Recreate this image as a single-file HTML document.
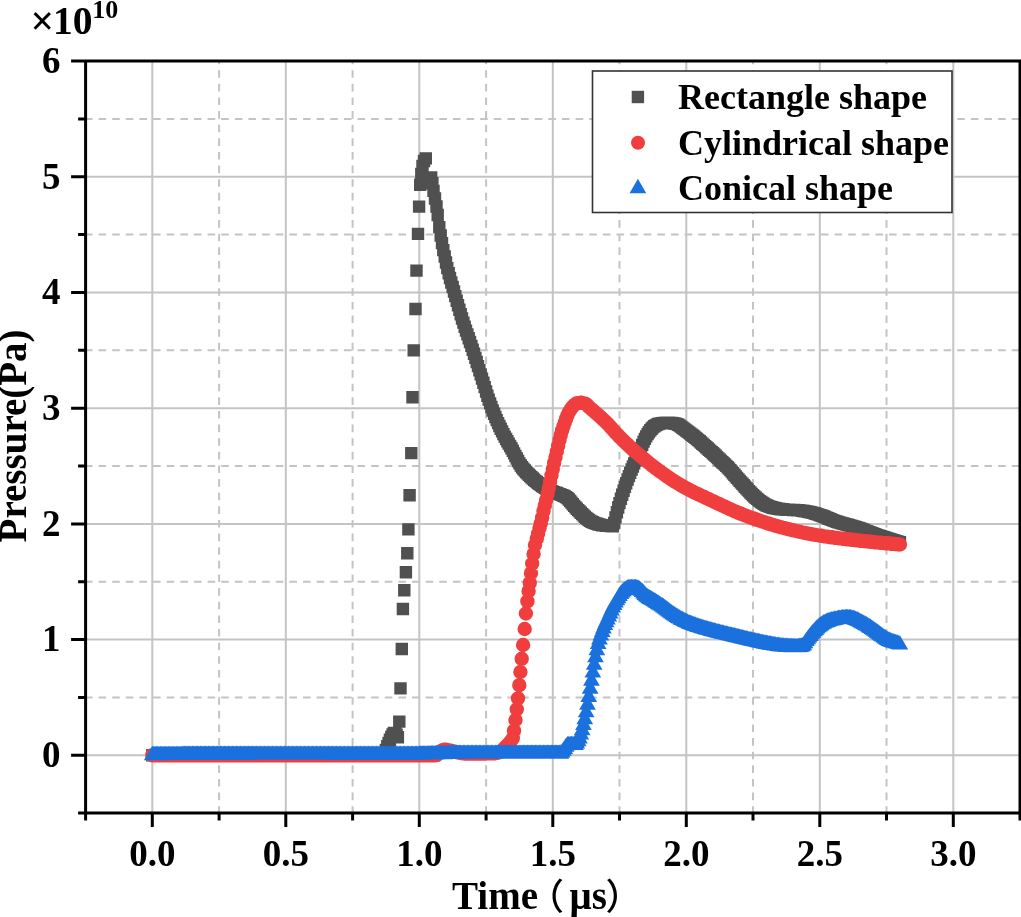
<!DOCTYPE html>
<html><head><meta charset="utf-8"><title>Pressure vs Time</title><style>
html,body{margin:0;padding:0;background:#fff;}
svg{display:block;}
text{font-family:"Liberation Serif","Times New Roman",serif;font-weight:bold;fill:#000;}
.cjk{font-family:"Noto Sans CJK SC","Liberation Sans",sans-serif;font-weight:500;}
</style></head><body>
<svg width="1021" height="917" viewBox="0 0 1021 917">
<rect width="1021" height="917" fill="#fff"/>
<path d="M152.3 813.1V61.1M285.8 813.1V61.1M419.3 813.1V61.1M552.8 813.1V61.1M686.3 813.1V61.1M819.8 813.1V61.1M953.3 813.1V61.1M85.6 755.3H1020M85.6 639.6H1020M85.6 523.9H1020M85.6 408.2H1020M85.6 292.5H1020M85.6 176.8H1020" stroke="#c4c4c4" stroke-width="2" fill="none"/>
<path d="M219.1 813.1V61.1M352.6 813.1V61.1M486.1 813.1V61.1M619.5 813.1V61.1M753 813.1V61.1M886.5 813.1V61.1M1020 813.1V61.1M85.6 697.4H1020M85.6 581.8H1020M85.6 466H1020M85.6 350.3H1020M85.6 234.6H1020M85.6 118.9H1020" stroke="#c4c4c4" stroke-width="2" stroke-dasharray="7.6 6.03" stroke-dashoffset="0.7" fill="none"/>
<path fill="#505050" d="M146.1 749.1h12.4v12.4h-12.4zM147.4 749.1h12.4v12.4h-12.4zM148.8 749.1h12.4v12.4h-12.4zM150.1 749.1h12.4v12.4h-12.4zM151.4 749.1h12.4v12.4h-12.4zM152.8 749.1h12.4v12.4h-12.4zM154.1 749.1h12.4v12.4h-12.4zM155.4 749.1h12.4v12.4h-12.4zM156.8 749.1h12.4v12.4h-12.4zM158.1 749.1h12.4v12.4h-12.4zM159.5 749.1h12.4v12.4h-12.4zM160.8 749.1h12.4v12.4h-12.4zM162.1 749.1h12.4v12.4h-12.4zM163.5 749.1h12.4v12.4h-12.4zM164.8 749.1h12.4v12.4h-12.4zM166.1 749.1h12.4v12.4h-12.4zM167.5 749.1h12.4v12.4h-12.4zM168.8 749.1h12.4v12.4h-12.4zM170.1 749.1h12.4v12.4h-12.4zM171.5 749.1h12.4v12.4h-12.4zM172.8 749.1h12.4v12.4h-12.4zM174.1 749.1h12.4v12.4h-12.4zM175.5 749.1h12.4v12.4h-12.4zM176.8 749.1h12.4v12.4h-12.4zM178.1 749.1h12.4v12.4h-12.4zM179.5 749.1h12.4v12.4h-12.4zM180.8 749.1h12.4v12.4h-12.4zM182.1 749.1h12.4v12.4h-12.4zM183.5 749.1h12.4v12.4h-12.4zM184.8 749.1h12.4v12.4h-12.4zM186.2 749.1h12.4v12.4h-12.4zM187.5 749.1h12.4v12.4h-12.4zM188.8 749.1h12.4v12.4h-12.4zM190.2 749.1h12.4v12.4h-12.4zM191.5 749.1h12.4v12.4h-12.4zM192.8 749.1h12.4v12.4h-12.4zM194.2 749.1h12.4v12.4h-12.4zM195.5 749.1h12.4v12.4h-12.4zM196.8 749.1h12.4v12.4h-12.4zM198.2 749.1h12.4v12.4h-12.4zM199.5 749.1h12.4v12.4h-12.4zM200.8 749.1h12.4v12.4h-12.4zM202.2 749.1h12.4v12.4h-12.4zM203.5 749.1h12.4v12.4h-12.4zM204.8 749.1h12.4v12.4h-12.4zM206.2 749.1h12.4v12.4h-12.4zM207.5 749.1h12.4v12.4h-12.4zM208.8 749.1h12.4v12.4h-12.4zM210.2 749.1h12.4v12.4h-12.4zM211.5 749.1h12.4v12.4h-12.4zM212.9 749.1h12.4v12.4h-12.4zM214.2 749.1h12.4v12.4h-12.4zM215.5 749.1h12.4v12.4h-12.4zM216.9 749.1h12.4v12.4h-12.4zM218.2 749.1h12.4v12.4h-12.4zM219.5 749.1h12.4v12.4h-12.4zM220.9 749.1h12.4v12.4h-12.4zM222.2 749.1h12.4v12.4h-12.4zM223.5 749.1h12.4v12.4h-12.4zM224.9 749.1h12.4v12.4h-12.4zM226.2 749.1h12.4v12.4h-12.4zM227.5 749.1h12.4v12.4h-12.4zM228.9 749.1h12.4v12.4h-12.4zM230.2 749.1h12.4v12.4h-12.4zM231.5 749.1h12.4v12.4h-12.4zM232.9 749.1h12.4v12.4h-12.4zM234.2 749.1h12.4v12.4h-12.4zM235.5 749.1h12.4v12.4h-12.4zM236.9 749.1h12.4v12.4h-12.4zM238.2 749.1h12.4v12.4h-12.4zM239.6 749.1h12.4v12.4h-12.4zM240.9 749.1h12.4v12.4h-12.4zM242.2 749.1h12.4v12.4h-12.4zM243.6 749.1h12.4v12.4h-12.4zM244.9 749.1h12.4v12.4h-12.4zM246.2 749.1h12.4v12.4h-12.4zM247.6 749.1h12.4v12.4h-12.4zM248.9 749.1h12.4v12.4h-12.4zM250.2 749.1h12.4v12.4h-12.4zM251.6 749.1h12.4v12.4h-12.4zM252.9 749.1h12.4v12.4h-12.4zM254.2 749.1h12.4v12.4h-12.4zM255.6 749.1h12.4v12.4h-12.4zM256.9 749.1h12.4v12.4h-12.4zM258.2 749.1h12.4v12.4h-12.4zM259.6 749.1h12.4v12.4h-12.4zM260.9 749.1h12.4v12.4h-12.4zM262.2 749.1h12.4v12.4h-12.4zM263.6 749.1h12.4v12.4h-12.4zM264.9 749.1h12.4v12.4h-12.4zM266.2 749.1h12.4v12.4h-12.4zM267.6 749.1h12.4v12.4h-12.4zM268.9 749.1h12.4v12.4h-12.4zM270.3 749.1h12.4v12.4h-12.4zM271.6 749.1h12.4v12.4h-12.4zM272.9 749.1h12.4v12.4h-12.4zM274.3 749.1h12.4v12.4h-12.4zM275.6 749.1h12.4v12.4h-12.4zM276.9 749.1h12.4v12.4h-12.4zM278.3 749.1h12.4v12.4h-12.4zM279.6 749.1h12.4v12.4h-12.4zM280.9 749.1h12.4v12.4h-12.4zM282.3 749.1h12.4v12.4h-12.4zM283.6 749.1h12.4v12.4h-12.4zM284.9 749.1h12.4v12.4h-12.4zM286.3 749.1h12.4v12.4h-12.4zM287.6 749.1h12.4v12.4h-12.4zM288.9 749.1h12.4v12.4h-12.4zM290.3 749.1h12.4v12.4h-12.4zM291.6 749.1h12.4v12.4h-12.4zM292.9 749.1h12.4v12.4h-12.4zM294.3 749.1h12.4v12.4h-12.4zM295.6 749.1h12.4v12.4h-12.4zM297 749.1h12.4v12.4h-12.4zM298.3 749.1h12.4v12.4h-12.4zM299.6 749.1h12.4v12.4h-12.4zM301 749.1h12.4v12.4h-12.4zM302.3 749.1h12.4v12.4h-12.4zM303.6 749.1h12.4v12.4h-12.4zM305 749.1h12.4v12.4h-12.4zM306.3 749.1h12.4v12.4h-12.4zM307.6 749.1h12.4v12.4h-12.4zM309 749.1h12.4v12.4h-12.4zM310.3 749.1h12.4v12.4h-12.4zM311.6 749.1h12.4v12.4h-12.4zM313 749.1h12.4v12.4h-12.4zM314.3 749.1h12.4v12.4h-12.4zM315.6 749.1h12.4v12.4h-12.4zM317 749.1h12.4v12.4h-12.4zM318.3 749.1h12.4v12.4h-12.4zM319.7 749.1h12.4v12.4h-12.4zM321 749.1h12.4v12.4h-12.4zM322.3 749.1h12.4v12.4h-12.4zM323.7 749.1h12.4v12.4h-12.4zM325 749.1h12.4v12.4h-12.4zM326.3 749.1h12.4v12.4h-12.4zM327.7 749.1h12.4v12.4h-12.4zM329 749.1h12.4v12.4h-12.4zM330.3 749.1h12.4v12.4h-12.4zM331.7 749.1h12.4v12.4h-12.4zM333 749.1h12.4v12.4h-12.4zM334.3 749.1h12.4v12.4h-12.4zM335.7 749.1h12.4v12.4h-12.4zM337 749.1h12.4v12.4h-12.4zM338.3 749.1h12.4v12.4h-12.4zM339.7 749.1h12.4v12.4h-12.4zM341 749.1h12.4v12.4h-12.4zM342.3 749.1h12.4v12.4h-12.4zM343.7 749.1h12.4v12.4h-12.4zM345 749.1h12.4v12.4h-12.4zM346.4 749.1h12.4v12.4h-12.4zM347.7 749.1h12.4v12.4h-12.4zM349 749.1h12.4v12.4h-12.4zM350.4 749.1h12.4v12.4h-12.4zM351.7 749.1h12.4v12.4h-12.4zM353 749.1h12.4v12.4h-12.4zM354.4 749.1h12.4v12.4h-12.4zM355.7 749.1h12.4v12.4h-12.4zM357 749.1h12.4v12.4h-12.4zM358.4 749.1h12.4v12.4h-12.4zM359.7 749.1h12.4v12.4h-12.4zM361 749.1h12.4v12.4h-12.4zM362.4 749.1h12.4v12.4h-12.4zM363.7 749.1h12.4v12.4h-12.4zM365 749.1h12.4v12.4h-12.4zM366.4 749.1h12.4v12.4h-12.4zM367.7 749.1h12.4v12.4h-12.4zM369 749.1h12.4v12.4h-12.4zM370.4 749.1h12.4v12.4h-12.4zM371.7 749.1h12.4v12.4h-12.4zM373.1 749.1h12.4v12.4h-12.4zM374.4 749.1h12.4v12.4h-12.4zM375.7 749.1h12.4v12.4h-12.4zM377.1 749.1h12.4v12.4h-12.4zM378.4 748.4h12.4v12.4h-12.4zM379.7 743.7h12.4v12.4h-12.4zM381.1 739.9h12.4v12.4h-12.4zM382.4 736.7h12.4v12.4h-12.4zM383.7 733.6h12.4v12.4h-12.4zM385.1 730.7h12.4v12.4h-12.4zM386.4 728.3h12.4v12.4h-12.4zM387.7 726.8h12.4v12.4h-12.4zM389.1 727.3h12.4v12.4h-12.4zM390.4 728.5h12.4v12.4h-12.4zM391.7 731.1h12.4v12.4h-12.4zM393.1 715.4h12.4v12.4h-12.4zM394.3 682.2h12.4v12.4h-12.4zM395.6 642.8h12.4v12.4h-12.4zM396.7 602.8h12.4v12.4h-12.4zM398.1 584h12.4v12.4h-12.4zM399.7 566h12.4v12.4h-12.4zM401.1 547.1h12.4v12.4h-12.4zM402.2 523.2h12.4v12.4h-12.4zM403.4 489.1h12.4v12.4h-12.4zM405.1 446.9h12.4v12.4h-12.4zM406.3 391h12.4v12.4h-12.4zM407.5 344.2h12.4v12.4h-12.4zM409.3 302.8h12.4v12.4h-12.4zM410.3 264.4h12.4v12.4h-12.4zM411.8 227.7h12.4v12.4h-12.4zM412.9 200.4h12.4v12.4h-12.4zM414 178.6h12.4v12.4h-12.4zM415.1 167.8h12.4v12.4h-12.4zM416.3 159.8h12.4v12.4h-12.4zM417.8 154.8h12.4v12.4h-12.4zM419.6 152.2h12.4v12.4h-12.4zM425 171.3h12.4v12.4h-12.4zM426.2 177h12.4v12.4h-12.4zM427.3 184.7h12.4v12.4h-12.4zM428.8 192.3h12.4v12.4h-12.4zM430.3 200.3h12.4v12.4h-12.4zM431.5 208.8h12.4v12.4h-12.4zM433.1 220.9h12.4v12.4h-12.4zM434.5 229.3h12.4v12.4h-12.4zM435.8 236.9h12.4v12.4h-12.4zM437.1 243.9h12.4v12.4h-12.4zM438.5 250.3h12.4v12.4h-12.4zM439.8 256.3h12.4v12.4h-12.4zM441.1 261.9h12.4v12.4h-12.4zM442.5 267h12.4v12.4h-12.4zM443.8 271.8h12.4v12.4h-12.4zM445.1 276.3h12.4v12.4h-12.4zM446.5 280.8h12.4v12.4h-12.4zM447.8 285.3h12.4v12.4h-12.4zM449.1 289.9h12.4v12.4h-12.4zM450.5 294.5h12.4v12.4h-12.4zM451.8 299h12.4v12.4h-12.4zM453.2 303.6h12.4v12.4h-12.4zM454.5 308h12.4v12.4h-12.4zM455.8 312.3h12.4v12.4h-12.4zM457.2 316.4h12.4v12.4h-12.4zM458.5 320.5h12.4v12.4h-12.4zM459.8 324.4h12.4v12.4h-12.4zM461.2 328.2h12.4v12.4h-12.4zM462.5 332h12.4v12.4h-12.4zM463.8 335.8h12.4v12.4h-12.4zM465.2 339.7h12.4v12.4h-12.4zM466.5 343.6h12.4v12.4h-12.4zM467.8 347.6h12.4v12.4h-12.4zM469.2 351.7h12.4v12.4h-12.4zM470.5 355.8h12.4v12.4h-12.4zM471.8 359.9h12.4v12.4h-12.4zM473.2 364h12.4v12.4h-12.4zM474.5 368.2h12.4v12.4h-12.4zM475.8 372.4h12.4v12.4h-12.4zM477.2 376.6h12.4v12.4h-12.4zM478.5 380.9h12.4v12.4h-12.4zM479.9 385.3h12.4v12.4h-12.4zM481.2 389.5h12.4v12.4h-12.4zM482.5 393.4h12.4v12.4h-12.4zM483.9 397.2h12.4v12.4h-12.4zM485.2 400.8h12.4v12.4h-12.4zM486.5 404.3h12.4v12.4h-12.4zM487.9 407.6h12.4v12.4h-12.4zM489.2 410.8h12.4v12.4h-12.4zM490.5 413.9h12.4v12.4h-12.4zM491.9 416.9h12.4v12.4h-12.4zM493.2 419.8h12.4v12.4h-12.4zM494.5 422.5h12.4v12.4h-12.4zM495.9 425.2h12.4v12.4h-12.4zM497.2 427.9h12.4v12.4h-12.4zM498.5 430.4h12.4v12.4h-12.4zM499.9 432.8h12.4v12.4h-12.4zM501.2 435.1h12.4v12.4h-12.4zM502.5 437.4h12.4v12.4h-12.4zM503.9 439.8h12.4v12.4h-12.4zM505.2 442.1h12.4v12.4h-12.4zM506.6 444.6h12.4v12.4h-12.4zM507.9 447.2h12.4v12.4h-12.4zM509.2 449.8h12.4v12.4h-12.4zM510.6 452.3h12.4v12.4h-12.4zM511.9 454.8h12.4v12.4h-12.4zM513.2 457.2h12.4v12.4h-12.4zM514.6 459.3h12.4v12.4h-12.4zM515.9 461.1h12.4v12.4h-12.4zM517.2 462.8h12.4v12.4h-12.4zM518.6 464.3h12.4v12.4h-12.4zM519.9 465.8h12.4v12.4h-12.4zM521.2 467.2h12.4v12.4h-12.4zM522.6 468.5h12.4v12.4h-12.4zM523.9 469.8h12.4v12.4h-12.4zM525.2 471.1h12.4v12.4h-12.4zM526.6 472.3h12.4v12.4h-12.4zM527.9 473.5h12.4v12.4h-12.4zM529.2 474.7h12.4v12.4h-12.4zM530.6 475.8h12.4v12.4h-12.4zM531.9 476.9h12.4v12.4h-12.4zM533.2 477.9h12.4v12.4h-12.4zM534.6 478.8h12.4v12.4h-12.4zM535.9 479.8h12.4v12.4h-12.4zM537.3 480.6h12.4v12.4h-12.4zM538.6 481.5h12.4v12.4h-12.4zM539.9 482.3h12.4v12.4h-12.4zM541.3 483h12.4v12.4h-12.4zM542.6 483.7h12.4v12.4h-12.4zM543.9 484.4h12.4v12.4h-12.4zM545.3 484.9h12.4v12.4h-12.4zM546.6 485.4h12.4v12.4h-12.4zM547.9 485.9h12.4v12.4h-12.4zM549.3 486.4h12.4v12.4h-12.4zM550.6 486.8h12.4v12.4h-12.4zM551.9 487.4h12.4v12.4h-12.4zM553.3 487.9h12.4v12.4h-12.4zM554.6 488.4h12.4v12.4h-12.4zM555.9 488.9h12.4v12.4h-12.4zM557.3 489.5h12.4v12.4h-12.4zM558.6 490.2h12.4v12.4h-12.4zM559.9 490.9h12.4v12.4h-12.4zM561.3 491.9h12.4v12.4h-12.4zM562.6 493.3h12.4v12.4h-12.4zM564 494.8h12.4v12.4h-12.4zM565.3 496.4h12.4v12.4h-12.4zM566.6 498.1h12.4v12.4h-12.4zM568 499.7h12.4v12.4h-12.4zM569.3 501.2h12.4v12.4h-12.4zM570.6 502.5h12.4v12.4h-12.4zM572 503.9h12.4v12.4h-12.4zM573.3 505.2h12.4v12.4h-12.4zM574.6 506.6h12.4v12.4h-12.4zM576 507.9h12.4v12.4h-12.4zM577.3 509.2h12.4v12.4h-12.4zM578.6 510.5h12.4v12.4h-12.4zM580 511.7h12.4v12.4h-12.4zM581.3 512.8h12.4v12.4h-12.4zM582.6 513.8h12.4v12.4h-12.4zM584 514.7h12.4v12.4h-12.4zM585.3 515.5h12.4v12.4h-12.4zM586.6 516.1h12.4v12.4h-12.4zM588 516.7h12.4v12.4h-12.4zM589.3 517.2h12.4v12.4h-12.4zM590.7 517.6h12.4v12.4h-12.4zM592 518h12.4v12.4h-12.4zM593.3 518.4h12.4v12.4h-12.4zM594.7 518.7h12.4v12.4h-12.4zM596 519h12.4v12.4h-12.4zM597.3 519.2h12.4v12.4h-12.4zM598.7 519.4h12.4v12.4h-12.4zM600 519.5h12.4v12.4h-12.4zM601.3 519.6h12.4v12.4h-12.4zM602.7 519.7h12.4v12.4h-12.4zM604 519.8h12.4v12.4h-12.4zM605.3 519.9h12.4v12.4h-12.4zM606.7 520h12.4v12.4h-12.4zM608 516.8h12.4v12.4h-12.4zM609.3 511.2h12.4v12.4h-12.4zM610.7 506h12.4v12.4h-12.4zM612 501.3h12.4v12.4h-12.4zM613.3 496.9h12.4v12.4h-12.4zM614.7 492.6h12.4v12.4h-12.4zM616 488.5h12.4v12.4h-12.4zM617.4 484.5h12.4v12.4h-12.4zM618.7 480.7h12.4v12.4h-12.4zM620 477h12.4v12.4h-12.4zM621.4 473.3h12.4v12.4h-12.4zM622.7 469.9h12.4v12.4h-12.4zM624 466.6h12.4v12.4h-12.4zM625.4 463.3h12.4v12.4h-12.4zM626.7 460.3h12.4v12.4h-12.4zM628 457.2h12.4v12.4h-12.4zM629.4 454.3h12.4v12.4h-12.4zM630.7 451.3h12.4v12.4h-12.4zM632 448.4h12.4v12.4h-12.4zM633.4 445.4h12.4v12.4h-12.4zM634.7 442.2h12.4v12.4h-12.4zM636 438.7h12.4v12.4h-12.4zM637.4 435.4h12.4v12.4h-12.4zM638.7 432.7h12.4v12.4h-12.4zM640 430.2h12.4v12.4h-12.4zM641.4 427.9h12.4v12.4h-12.4zM642.7 425.9h12.4v12.4h-12.4zM644.1 424.1h12.4v12.4h-12.4zM645.4 422.5h12.4v12.4h-12.4zM646.7 421.2h12.4v12.4h-12.4zM648.1 420.1h12.4v12.4h-12.4zM649.4 419.2h12.4v12.4h-12.4zM650.7 418.4h12.4v12.4h-12.4zM652.1 417.8h12.4v12.4h-12.4zM653.4 417.4h12.4v12.4h-12.4zM654.7 417.2h12.4v12.4h-12.4zM656.1 417h12.4v12.4h-12.4zM657.4 416.8h12.4v12.4h-12.4zM658.7 416.7h12.4v12.4h-12.4zM660.1 416.6h12.4v12.4h-12.4zM661.4 416.6h12.4v12.4h-12.4zM662.7 416.6h12.4v12.4h-12.4zM664.1 416.7h12.4v12.4h-12.4zM665.4 416.8h12.4v12.4h-12.4zM666.8 417h12.4v12.4h-12.4zM668.1 417.3h12.4v12.4h-12.4zM669.4 417.5h12.4v12.4h-12.4zM670.8 417.9h12.4v12.4h-12.4zM672.1 418.5h12.4v12.4h-12.4zM673.4 419.4h12.4v12.4h-12.4zM674.8 420.4h12.4v12.4h-12.4zM676.1 421.4h12.4v12.4h-12.4zM677.4 422.4h12.4v12.4h-12.4zM678.8 423.4h12.4v12.4h-12.4zM680.1 424.4h12.4v12.4h-12.4zM681.4 425.4h12.4v12.4h-12.4zM682.8 426.4h12.4v12.4h-12.4zM684.1 427.4h12.4v12.4h-12.4zM685.4 428.5h12.4v12.4h-12.4zM686.8 429.5h12.4v12.4h-12.4zM688.1 430.6h12.4v12.4h-12.4zM689.4 431.7h12.4v12.4h-12.4zM690.8 432.8h12.4v12.4h-12.4zM692.1 433.9h12.4v12.4h-12.4zM693.5 435.1h12.4v12.4h-12.4zM694.8 436.3h12.4v12.4h-12.4zM696.1 437.5h12.4v12.4h-12.4zM697.5 438.7h12.4v12.4h-12.4zM698.8 439.9h12.4v12.4h-12.4zM700.1 441.1h12.4v12.4h-12.4zM701.5 442.3h12.4v12.4h-12.4zM702.8 443.5h12.4v12.4h-12.4zM704.1 444.7h12.4v12.4h-12.4zM705.5 445.9h12.4v12.4h-12.4zM706.8 447.1h12.4v12.4h-12.4zM708.1 448.3h12.4v12.4h-12.4zM709.5 449.6h12.4v12.4h-12.4zM710.8 450.9h12.4v12.4h-12.4zM712.1 452.2h12.4v12.4h-12.4zM713.5 453.5h12.4v12.4h-12.4zM714.8 454.8h12.4v12.4h-12.4zM716.1 456h12.4v12.4h-12.4zM717.5 457.2h12.4v12.4h-12.4zM718.8 458.4h12.4v12.4h-12.4zM720.1 459.7h12.4v12.4h-12.4zM721.5 461h12.4v12.4h-12.4zM722.8 462.4h12.4v12.4h-12.4zM724.2 463.9h12.4v12.4h-12.4zM725.5 465.4h12.4v12.4h-12.4zM726.8 467h12.4v12.4h-12.4zM728.2 468.6h12.4v12.4h-12.4zM729.5 470.2h12.4v12.4h-12.4zM730.8 471.7h12.4v12.4h-12.4zM732.2 473.2h12.4v12.4h-12.4zM733.5 474.7h12.4v12.4h-12.4zM734.8 476.2h12.4v12.4h-12.4zM736.2 477.6h12.4v12.4h-12.4zM737.5 479.1h12.4v12.4h-12.4zM738.8 480.6h12.4v12.4h-12.4zM740.2 482h12.4v12.4h-12.4zM741.5 483.4h12.4v12.4h-12.4zM742.8 484.9h12.4v12.4h-12.4zM744.2 486.3h12.4v12.4h-12.4zM745.5 487.7h12.4v12.4h-12.4zM746.8 489h12.4v12.4h-12.4zM748.2 490.3h12.4v12.4h-12.4zM749.5 491.5h12.4v12.4h-12.4zM750.9 492.7h12.4v12.4h-12.4zM752.2 493.8h12.4v12.4h-12.4zM753.5 494.9h12.4v12.4h-12.4zM754.9 495.8h12.4v12.4h-12.4zM756.2 496.7h12.4v12.4h-12.4zM757.5 497.6h12.4v12.4h-12.4zM758.9 498.4h12.4v12.4h-12.4zM760.2 499.1h12.4v12.4h-12.4zM761.5 499.7h12.4v12.4h-12.4zM762.9 500.2h12.4v12.4h-12.4zM764.2 500.7h12.4v12.4h-12.4zM765.5 501.1h12.4v12.4h-12.4zM766.9 501.5h12.4v12.4h-12.4zM768.2 501.8h12.4v12.4h-12.4zM769.5 502.1h12.4v12.4h-12.4zM770.9 502.4h12.4v12.4h-12.4zM772.2 502.6h12.4v12.4h-12.4zM773.5 502.8h12.4v12.4h-12.4zM774.9 503h12.4v12.4h-12.4zM776.2 503.1h12.4v12.4h-12.4zM777.6 503.3h12.4v12.4h-12.4zM778.9 503.4h12.4v12.4h-12.4zM780.2 503.5h12.4v12.4h-12.4zM781.6 503.6h12.4v12.4h-12.4zM782.9 503.6h12.4v12.4h-12.4zM784.2 503.7h12.4v12.4h-12.4zM785.6 503.7h12.4v12.4h-12.4zM786.9 503.8h12.4v12.4h-12.4zM788.2 503.8h12.4v12.4h-12.4zM789.6 503.9h12.4v12.4h-12.4zM790.9 504h12.4v12.4h-12.4zM792.2 504.1h12.4v12.4h-12.4zM793.6 504.2h12.4v12.4h-12.4zM794.9 504.4h12.4v12.4h-12.4zM796.2 504.6h12.4v12.4h-12.4zM797.6 504.8h12.4v12.4h-12.4zM798.9 505h12.4v12.4h-12.4zM800.2 505.2h12.4v12.4h-12.4zM801.6 505.5h12.4v12.4h-12.4zM802.9 505.8h12.4v12.4h-12.4zM804.3 506.1h12.4v12.4h-12.4zM805.6 506.4h12.4v12.4h-12.4zM806.9 506.7h12.4v12.4h-12.4zM808.3 507.1h12.4v12.4h-12.4zM809.6 507.5h12.4v12.4h-12.4zM810.9 507.9h12.4v12.4h-12.4zM812.3 508.4h12.4v12.4h-12.4zM813.6 508.9h12.4v12.4h-12.4zM814.9 509.3h12.4v12.4h-12.4zM816.3 509.8h12.4v12.4h-12.4zM817.6 510.3h12.4v12.4h-12.4zM818.9 510.8h12.4v12.4h-12.4zM820.3 511.4h12.4v12.4h-12.4zM821.6 512h12.4v12.4h-12.4zM822.9 512.5h12.4v12.4h-12.4zM824.3 513.1h12.4v12.4h-12.4zM825.6 513.7h12.4v12.4h-12.4zM827 514.2h12.4v12.4h-12.4zM828.3 514.7h12.4v12.4h-12.4zM829.6 515.2h12.4v12.4h-12.4zM831 515.6h12.4v12.4h-12.4zM832.3 516h12.4v12.4h-12.4zM833.6 516.4h12.4v12.4h-12.4zM835 516.8h12.4v12.4h-12.4zM836.3 517.2h12.4v12.4h-12.4zM837.6 517.5h12.4v12.4h-12.4zM839 517.9h12.4v12.4h-12.4zM840.3 518.3h12.4v12.4h-12.4zM841.6 518.6h12.4v12.4h-12.4zM843 519h12.4v12.4h-12.4zM844.3 519.4h12.4v12.4h-12.4zM845.6 519.8h12.4v12.4h-12.4zM847 520.2h12.4v12.4h-12.4zM848.3 520.6h12.4v12.4h-12.4zM849.6 521h12.4v12.4h-12.4zM851 521.4h12.4v12.4h-12.4zM852.3 521.8h12.4v12.4h-12.4zM853.6 522.2h12.4v12.4h-12.4zM855 522.7h12.4v12.4h-12.4zM856.3 523.3h12.4v12.4h-12.4zM857.7 523.8h12.4v12.4h-12.4zM859 524.4h12.4v12.4h-12.4zM860.3 525h12.4v12.4h-12.4zM861.7 525.6h12.4v12.4h-12.4zM863 526.1h12.4v12.4h-12.4zM864.3 526.6h12.4v12.4h-12.4zM865.7 527.1h12.4v12.4h-12.4zM867 527.6h12.4v12.4h-12.4zM868.3 528h12.4v12.4h-12.4zM869.7 528.5h12.4v12.4h-12.4zM871 528.9h12.4v12.4h-12.4zM872.3 529.4h12.4v12.4h-12.4zM873.7 529.8h12.4v12.4h-12.4zM875 530.2h12.4v12.4h-12.4zM876.3 530.7h12.4v12.4h-12.4zM877.7 531.1h12.4v12.4h-12.4zM879 531.5h12.4v12.4h-12.4zM880.3 532h12.4v12.4h-12.4zM881.7 532.4h12.4v12.4h-12.4zM883 532.8h12.4v12.4h-12.4zM884.4 533.2h12.4v12.4h-12.4zM885.7 533.7h12.4v12.4h-12.4zM887 534.1h12.4v12.4h-12.4zM888.4 534.5h12.4v12.4h-12.4zM889.7 534.9h12.4v12.4h-12.4zM891 535.3h12.4v12.4h-12.4zM892.4 535.7h12.4v12.4h-12.4zM893.7 536.1h12.4v12.4h-12.4z"/>
<path stroke="#f03e3f" stroke-width="14.4" stroke-linecap="round" fill="none" d="M152.3 755.3h0M153.6 755.3h0M155 755.3h0M156.3 755.3h0M157.6 755.3h0M159 755.3h0M160.3 755.3h0M161.6 755.3h0M163 755.3h0M164.3 755.3h0M165.7 755.3h0M167 755.3h0M168.3 755.3h0M169.7 755.3h0M171 755.3h0M172.3 755.3h0M173.7 755.3h0M175 755.3h0M176.3 755.3h0M177.7 755.3h0M179 755.3h0M180.3 755.3h0M181.7 755.3h0M183 755.3h0M184.3 755.3h0M185.7 755.3h0M187 755.3h0M188.3 755.3h0M189.7 755.3h0M191 755.3h0M192.4 755.3h0M193.7 755.3h0M195 755.3h0M196.4 755.3h0M197.7 755.3h0M199 755.3h0M200.4 755.3h0M201.7 755.3h0M203 755.3h0M204.4 755.3h0M205.7 755.3h0M207 755.3h0M208.4 755.3h0M209.7 755.3h0M211 755.3h0M212.4 755.3h0M213.7 755.3h0M215 755.3h0M216.4 755.3h0M217.7 755.3h0M219.1 755.3h0M220.4 755.3h0M221.7 755.3h0M223.1 755.3h0M224.4 755.3h0M225.7 755.3h0M227.1 755.3h0M228.4 755.3h0M229.7 755.3h0M231.1 755.3h0M232.4 755.3h0M233.7 755.3h0M235.1 755.3h0M236.4 755.3h0M237.7 755.3h0M239.1 755.3h0M240.4 755.3h0M241.7 755.3h0M243.1 755.3h0M244.4 755.3h0M245.8 755.3h0M247.1 755.3h0M248.4 755.3h0M249.8 755.3h0M251.1 755.3h0M252.4 755.3h0M253.8 755.3h0M255.1 755.3h0M256.4 755.3h0M257.8 755.3h0M259.1 755.3h0M260.4 755.3h0M261.8 755.3h0M263.1 755.3h0M264.4 755.3h0M265.8 755.3h0M267.1 755.3h0M268.4 755.3h0M269.8 755.3h0M271.1 755.3h0M272.4 755.3h0M273.8 755.3h0M275.1 755.3h0M276.5 755.3h0M277.8 755.3h0M279.1 755.3h0M280.5 755.3h0M281.8 755.3h0M283.1 755.3h0M284.5 755.3h0M285.8 755.3h0M287.1 755.3h0M288.5 755.3h0M289.8 755.3h0M291.1 755.3h0M292.5 755.3h0M293.8 755.3h0M295.1 755.3h0M296.5 755.3h0M297.8 755.3h0M299.1 755.3h0M300.5 755.3h0M301.8 755.3h0M303.2 755.3h0M304.5 755.3h0M305.8 755.3h0M307.2 755.3h0M308.5 755.3h0M309.8 755.3h0M311.2 755.3h0M312.5 755.3h0M313.8 755.3h0M315.2 755.3h0M316.5 755.3h0M317.8 755.3h0M319.2 755.3h0M320.5 755.3h0M321.8 755.3h0M323.2 755.3h0M324.5 755.3h0M325.9 755.3h0M327.2 755.3h0M328.5 755.3h0M329.9 755.3h0M331.2 755.3h0M332.5 755.3h0M333.9 755.3h0M335.2 755.3h0M336.5 755.3h0M337.9 755.3h0M339.2 755.3h0M340.5 755.3h0M341.9 755.3h0M343.2 755.3h0M344.5 755.3h0M345.9 755.3h0M347.2 755.3h0M348.5 755.3h0M349.9 755.3h0M351.2 755.3h0M352.6 755.3h0M353.9 755.3h0M355.2 755.3h0M356.6 755.3h0M357.9 755.3h0M359.2 755.3h0M360.6 755.3h0M361.9 755.3h0M363.2 755.3h0M364.6 755.3h0M365.9 755.3h0M367.2 755.3h0M368.6 755.3h0M369.9 755.3h0M371.2 755.3h0M372.6 755.3h0M373.9 755.3h0M375.2 755.3h0M376.6 755.3h0M377.9 755.3h0M379.2 755.3h0M380.6 755.3h0M381.9 755.3h0M383.3 755.3h0M384.6 755.3h0M385.9 755.3h0M387.3 755.3h0M388.6 755.3h0M389.9 755.3h0M391.3 755.3h0M392.6 755.3h0M393.9 755.3h0M395.3 755.3h0M396.6 755.3h0M397.9 755.3h0M399.3 755.3h0M400.6 755.3h0M401.9 755.3h0M403.3 755.3h0M404.6 755.3h0M406 755.3h0M407.3 755.3h0M408.6 755.3h0M410 755.3h0M411.3 755.3h0M412.6 755.3h0M414 755.3h0M415.3 755.3h0M416.6 755.3h0M418 755.3h0M419.3 755.3h0M420.6 755.3h0M422 755.3h0M423.3 755.3h0M424.6 755.3h0M426 755.3h0M427.3 755.3h0M428.6 755.3h0M430 755.3h0M431.3 755.3h0M432.6 755.3h0M434 755.3h0M435.3 755.3h0M436.7 755.1h0M438 753.7h0M439.3 752h0M440.7 751.1h0M442 750.4h0M443.3 749.9h0M444.7 749.7h0M446 749.8h0M447.3 750h0M448.7 750.2h0M450 750.5h0M451.3 750.8h0M452.7 751.1h0M454 751.5h0M455.3 751.9h0M456.7 752.2h0M458 752.5h0M459.4 752.7h0M460.7 753h0M462 753.2h0M463.4 753.3h0M464.7 753.5h0M466 753.5h0M467.4 753.5h0M468.7 753.5h0M470 753.5h0M471.4 753.5h0M472.7 753.5h0M474 753.5h0M475.4 753.5h0M476.7 753.5h0M478 753.5h0M479.4 753.5h0M480.7 753.5h0M482 753.5h0M483.4 753.5h0M484.7 753.5h0M486.1 753.5h0M487.4 753.4h0M488.7 753.4h0M490.1 753.4h0M491.4 753.3h0M492.7 753.3h0M494.1 753.2h0M495.4 753.2h0M496.7 753h0M498.1 752.7h0M499.4 752.2h0M500.7 751.6h0M502.1 750.4h0M503.4 749.1h0M504.7 747.8h0M506.1 746.4h0M507.4 745.1h0M508.7 743.8h0M510.1 742.2h0M511.4 740.4h0M512.8 738.3h0M514 730.7h0M515.5 720h0M516.8 709.3h0M518 698.4h0M519.3 685.2h0M520.4 672h0M521.7 658.8h0M523.1 645h0M524.7 629h0M525.9 613.5h0M527.4 601.4h0M528.6 591.2h0M529.8 582.8h0M531 573.2h0M532.2 563.6h0M533.6 554h0M535 545h0M536.8 538.7h0M538.1 533.6h0M539.5 528.2h0M540.8 523.3h0M542.1 517.7h0M543.5 511.2h0M544.8 505.5h0M546.1 500h0M547.5 494.2h0M548.8 488.1h0M550.1 481.7h0M551.5 475.3h0M552.8 469h0M554.1 462.9h0M555.5 457.2h0M556.8 451.6h0M558.1 445.8h0M559.5 439.9h0M560.8 434.8h0M562.1 430.4h0M563.5 426.4h0M564.8 422.5h0M566.1 418.7h0M567.5 415.3h0M568.8 412.5h0M570.2 410.1h0M571.5 408.1h0M572.8 406.5h0M574.2 405.1h0M575.5 404h0M576.8 403.3h0M578.2 403.1h0M579.5 402.9h0M580.8 402.8h0M582.2 402.9h0M583.5 403.1h0M584.8 403.5h0M586.2 404.1h0M587.5 405.4h0M588.8 406.8h0M590.2 408h0M591.5 409.2h0M592.9 410.3h0M594.2 411.5h0M595.5 412.6h0M596.9 413.8h0M598.2 414.9h0M599.5 416.1h0M600.9 417.3h0M602.2 418.6h0M603.5 419.8h0M604.9 421.1h0M606.2 422.4h0M607.5 423.7h0M608.9 425.1h0M610.2 426.6h0M611.5 428.1h0M612.9 429.6h0M614.2 431.1h0M615.5 432.6h0M616.9 434h0M618.2 435.4h0M619.5 436.8h0M620.9 438.1h0M622.2 439.5h0M623.6 440.8h0M624.9 442.1h0M626.2 443.4h0M627.6 444.7h0M628.9 445.9h0M630.2 447.2h0M631.6 448.4h0M632.9 449.6h0M634.2 450.7h0M635.6 451.8h0M636.9 452.9h0M638.2 454h0M639.6 455.1h0M640.9 456.3h0M642.2 457.4h0M643.6 458.5h0M644.9 459.7h0M646.2 460.8h0M647.6 461.9h0M648.9 463h0M650.3 464h0M651.6 465.1h0M652.9 466.1h0M654.3 467.2h0M655.6 468.2h0M656.9 469.2h0M658.3 470.2h0M659.6 471.1h0M660.9 472.1h0M662.3 473h0M663.6 474h0M664.9 474.9h0M666.3 475.9h0M667.6 476.8h0M668.9 477.7h0M670.3 478.7h0M671.6 479.6h0M673 480.4h0M674.3 481.3h0M675.6 482.1h0M677 482.9h0M678.3 483.7h0M679.6 484.5h0M681 485.3h0M682.3 486h0M683.6 486.8h0M685 487.6h0M686.3 488.3h0M687.6 489h0M689 489.7h0M690.3 490.4h0M691.6 491.1h0M693 491.8h0M694.3 492.4h0M695.6 493.1h0M697 493.7h0M698.3 494.3h0M699.7 494.9h0M701 495.6h0M702.3 496.2h0M703.7 496.8h0M705 497.4h0M706.3 498.1h0M707.7 498.7h0M709 499.3h0M710.3 500h0M711.7 500.6h0M713 501.2h0M714.3 501.8h0M715.7 502.5h0M717 503.1h0M718.3 503.7h0M719.7 504.3h0M721 505h0M722.3 505.6h0M723.7 506.2h0M725 506.8h0M726.3 507.4h0M727.7 508.1h0M729 508.7h0M730.4 509.3h0M731.7 509.9h0M733 510.5h0M734.4 511.1h0M735.7 511.6h0M737 512.2h0M738.4 512.8h0M739.7 513.3h0M741 513.8h0M742.4 514.4h0M743.7 514.9h0M745 515.4h0M746.4 515.9h0M747.7 516.4h0M749 516.9h0M750.4 517.4h0M751.7 517.9h0M753 518.3h0M754.4 518.8h0M755.7 519.3h0M757.1 519.8h0M758.4 520.2h0M759.7 520.7h0M761.1 521.1h0M762.4 521.6h0M763.7 522h0M765.1 522.5h0M766.4 522.9h0M767.7 523.3h0M769.1 523.8h0M770.4 524.2h0M771.7 524.6h0M773.1 525h0M774.4 525.4h0M775.7 525.8h0M777.1 526.2h0M778.4 526.5h0M779.8 526.9h0M781.1 527.3h0M782.4 527.6h0M783.8 528h0M785.1 528.3h0M786.4 528.7h0M787.8 529h0M789.1 529.3h0M790.4 529.7h0M791.8 530h0M793.1 530.3h0M794.4 530.6h0M795.8 530.9h0M797.1 531.2h0M798.4 531.5h0M799.8 531.8h0M801.1 532.1h0M802.4 532.4h0M803.8 532.7h0M805.1 532.9h0M806.5 533.2h0M807.8 533.5h0M809.1 533.7h0M810.5 534h0M811.8 534.2h0M813.1 534.4h0M814.5 534.7h0M815.8 534.9h0M817.1 535.1h0M818.5 535.4h0M819.8 535.6h0M821.1 535.8h0M822.5 536h0M823.8 536.2h0M825.1 536.4h0M826.5 536.6h0M827.8 536.8h0M829.1 537h0M830.5 537.2h0M831.8 537.3h0M833.2 537.5h0M834.5 537.7h0M835.8 537.9h0M837.2 538h0M838.5 538.2h0M839.8 538.4h0M841.2 538.5h0M842.5 538.7h0M843.8 538.9h0M845.2 539h0M846.5 539.2h0M847.8 539.3h0M849.2 539.5h0M850.5 539.6h0M851.8 539.8h0M853.2 539.9h0M854.5 540.1h0M855.8 540.2h0M857.2 540.4h0M858.5 540.5h0M859.8 540.7h0M861.2 540.8h0M862.5 540.9h0M863.9 541.1h0M865.2 541.2h0M866.5 541.4h0M867.9 541.5h0M869.2 541.6h0M870.5 541.8h0M871.9 541.9h0M873.2 542.1h0M874.5 542.2h0M875.9 542.3h0M877.2 542.4h0M878.5 542.6h0M879.9 542.7h0M881.2 542.8h0M882.5 542.9h0M883.9 543.1h0M885.2 543.2h0M886.5 543.3h0M887.9 543.4h0M889.2 543.5h0M890.6 543.7h0M891.9 543.8h0M893.2 543.9h0M894.6 544h0M895.9 544.1h0M897.2 544.2h0M898.6 544.3h0M899.9 544.5h0"/>
<path fill="#1a71de" d="M152.3 745.8l8.3 14.4h-16.7zM153.6 745.8l8.3 14.4h-16.7zM155 745.8l8.3 14.4h-16.7zM156.3 745.8l8.3 14.4h-16.7zM157.6 745.8l8.3 14.4h-16.7zM159 745.8l8.3 14.4h-16.7zM160.3 745.8l8.3 14.4h-16.7zM161.6 745.8l8.3 14.4h-16.7zM163 745.7l8.3 14.4h-16.7zM164.3 745.7l8.3 14.4h-16.7zM165.7 745.7l8.3 14.4h-16.7zM167 745.7l8.3 14.4h-16.7zM168.3 745.7l8.3 14.4h-16.7zM169.7 745.7l8.3 14.4h-16.7zM171 745.7l8.3 14.4h-16.7zM172.3 745.7l8.3 14.4h-16.7zM173.7 745.7l8.3 14.4h-16.7zM175 745.7l8.3 14.4h-16.7zM176.3 745.7l8.3 14.4h-16.7zM177.7 745.7l8.3 14.4h-16.7zM179 745.7l8.3 14.4h-16.7zM180.3 745.7l8.3 14.4h-16.7zM181.7 745.7l8.3 14.4h-16.7zM183 745.6l8.3 14.4h-16.7zM184.3 745.6l8.3 14.4h-16.7zM185.7 745.6l8.3 14.4h-16.7zM187 745.6l8.3 14.4h-16.7zM188.3 745.6l8.3 14.4h-16.7zM189.7 745.6l8.3 14.4h-16.7zM191 745.6l8.3 14.4h-16.7zM192.4 745.6l8.3 14.4h-16.7zM193.7 745.6l8.3 14.4h-16.7zM195 745.6l8.3 14.4h-16.7zM196.4 745.6l8.3 14.4h-16.7zM197.7 745.6l8.3 14.4h-16.7zM199 745.6l8.3 14.4h-16.7zM200.4 745.6l8.3 14.4h-16.7zM201.7 745.6l8.3 14.4h-16.7zM203 745.6l8.3 14.4h-16.7zM204.4 745.6l8.3 14.4h-16.7zM205.7 745.6l8.3 14.4h-16.7zM207 745.6l8.3 14.4h-16.7zM208.4 745.6l8.3 14.4h-16.7zM209.7 745.5l8.3 14.4h-16.7zM211 745.5l8.3 14.4h-16.7zM212.4 745.5l8.3 14.4h-16.7zM213.7 745.5l8.3 14.4h-16.7zM215 745.5l8.3 14.4h-16.7zM216.4 745.5l8.3 14.4h-16.7zM217.7 745.5l8.3 14.4h-16.7zM219.1 745.5l8.3 14.4h-16.7zM220.4 745.5l8.3 14.4h-16.7zM221.7 745.5l8.3 14.4h-16.7zM223.1 745.5l8.3 14.4h-16.7zM224.4 745.5l8.3 14.4h-16.7zM225.7 745.5l8.3 14.4h-16.7zM227.1 745.5l8.3 14.4h-16.7zM228.4 745.5l8.3 14.4h-16.7zM229.7 745.5l8.3 14.4h-16.7zM231.1 745.5l8.3 14.4h-16.7zM232.4 745.5l8.3 14.4h-16.7zM233.7 745.5l8.3 14.4h-16.7zM235.1 745.5l8.3 14.4h-16.7zM236.4 745.5l8.3 14.4h-16.7zM237.7 745.5l8.3 14.4h-16.7zM239.1 745.5l8.3 14.4h-16.7zM240.4 745.5l8.3 14.4h-16.7zM241.7 745.5l8.3 14.4h-16.7zM243.1 745.5l8.3 14.4h-16.7zM244.4 745.5l8.3 14.4h-16.7zM245.8 745.5l8.3 14.4h-16.7zM247.1 745.5l8.3 14.4h-16.7zM248.4 745.4l8.3 14.4h-16.7zM249.8 745.4l8.3 14.4h-16.7zM251.1 745.4l8.3 14.4h-16.7zM252.4 745.4l8.3 14.4h-16.7zM253.8 745.4l8.3 14.4h-16.7zM255.1 745.4l8.3 14.4h-16.7zM256.4 745.4l8.3 14.4h-16.7zM257.8 745.4l8.3 14.4h-16.7zM259.1 745.4l8.3 14.4h-16.7zM260.4 745.4l8.3 14.4h-16.7zM261.8 745.4l8.3 14.4h-16.7zM263.1 745.4l8.3 14.4h-16.7zM264.4 745.4l8.3 14.4h-16.7zM265.8 745.4l8.3 14.4h-16.7zM267.1 745.4l8.3 14.4h-16.7zM268.4 745.4l8.3 14.4h-16.7zM269.8 745.4l8.3 14.4h-16.7zM271.1 745.4l8.3 14.4h-16.7zM272.4 745.4l8.3 14.4h-16.7zM273.8 745.4l8.3 14.4h-16.7zM275.1 745.4l8.3 14.4h-16.7zM276.5 745.4l8.3 14.4h-16.7zM277.8 745.4l8.3 14.4h-16.7zM279.1 745.4l8.3 14.4h-16.7zM280.5 745.4l8.3 14.4h-16.7zM281.8 745.4l8.3 14.4h-16.7zM283.1 745.4l8.3 14.4h-16.7zM284.5 745.4l8.3 14.4h-16.7zM285.8 745.4l8.3 14.4h-16.7zM287.1 745.4l8.3 14.4h-16.7zM288.5 745.4l8.3 14.4h-16.7zM289.8 745.4l8.3 14.4h-16.7zM291.1 745.4l8.3 14.4h-16.7zM292.5 745.4l8.3 14.4h-16.7zM293.8 745.4l8.3 14.4h-16.7zM295.1 745.4l8.3 14.4h-16.7zM296.5 745.4l8.3 14.4h-16.7zM297.8 745.4l8.3 14.4h-16.7zM299.1 745.4l8.3 14.4h-16.7zM300.5 745.4l8.3 14.4h-16.7zM301.8 745.4l8.3 14.4h-16.7zM303.2 745.4l8.3 14.4h-16.7zM304.5 745.4l8.3 14.4h-16.7zM305.8 745.4l8.3 14.4h-16.7zM307.2 745.4l8.3 14.4h-16.7zM308.5 745.4l8.3 14.4h-16.7zM309.8 745.4l8.3 14.4h-16.7zM311.2 745.4l8.3 14.4h-16.7zM312.5 745.4l8.3 14.4h-16.7zM313.8 745.4l8.3 14.4h-16.7zM315.2 745.4l8.3 14.4h-16.7zM316.5 745.4l8.3 14.4h-16.7zM317.8 745.4l8.3 14.4h-16.7zM319.2 745.4l8.3 14.4h-16.7zM320.5 745.4l8.3 14.4h-16.7zM321.8 745.4l8.3 14.4h-16.7zM323.2 745.4l8.3 14.4h-16.7zM324.5 745.4l8.3 14.4h-16.7zM325.9 745.4l8.3 14.4h-16.7zM327.2 745.4l8.3 14.4h-16.7zM328.5 745.4l8.3 14.4h-16.7zM329.9 745.4l8.3 14.4h-16.7zM331.2 745.4l8.3 14.4h-16.7zM332.5 745.4l8.3 14.4h-16.7zM333.9 745.5l8.3 14.4h-16.7zM335.2 745.5l8.3 14.4h-16.7zM336.5 745.5l8.3 14.4h-16.7zM337.9 745.5l8.3 14.4h-16.7zM339.2 745.5l8.3 14.4h-16.7zM340.5 745.5l8.3 14.4h-16.7zM341.9 745.5l8.3 14.4h-16.7zM343.2 745.5l8.3 14.4h-16.7zM344.5 745.5l8.3 14.4h-16.7zM345.9 745.5l8.3 14.4h-16.7zM347.2 745.5l8.3 14.4h-16.7zM348.5 745.5l8.3 14.4h-16.7zM349.9 745.5l8.3 14.4h-16.7zM351.2 745.5l8.3 14.4h-16.7zM352.6 745.5l8.3 14.4h-16.7zM353.9 745.5l8.3 14.4h-16.7zM355.2 745.5l8.3 14.4h-16.7zM356.6 745.5l8.3 14.4h-16.7zM357.9 745.5l8.3 14.4h-16.7zM359.2 745.5l8.3 14.4h-16.7zM360.6 745.5l8.3 14.4h-16.7zM361.9 745.5l8.3 14.4h-16.7zM363.2 745.5l8.3 14.4h-16.7zM364.6 745.5l8.3 14.4h-16.7zM365.9 745.5l8.3 14.4h-16.7zM367.2 745.5l8.3 14.4h-16.7zM368.6 745.6l8.3 14.4h-16.7zM369.9 745.6l8.3 14.4h-16.7zM371.2 745.6l8.3 14.4h-16.7zM372.6 745.6l8.3 14.4h-16.7zM373.9 745.6l8.3 14.4h-16.7zM375.2 745.6l8.3 14.4h-16.7zM376.6 745.6l8.3 14.4h-16.7zM377.9 745.6l8.3 14.4h-16.7zM379.2 745.6l8.3 14.4h-16.7zM380.6 745.6l8.3 14.4h-16.7zM381.9 745.6l8.3 14.4h-16.7zM383.3 745.6l8.3 14.4h-16.7zM384.6 745.6l8.3 14.4h-16.7zM385.9 745.6l8.3 14.4h-16.7zM387.3 745.6l8.3 14.4h-16.7zM388.6 745.6l8.3 14.4h-16.7zM389.9 745.6l8.3 14.4h-16.7zM391.3 745.6l8.3 14.4h-16.7zM392.6 745.6l8.3 14.4h-16.7zM393.9 745.6l8.3 14.4h-16.7zM395.3 745.6l8.3 14.4h-16.7zM396.6 745.6l8.3 14.4h-16.7zM397.9 745.6l8.3 14.4h-16.7zM399.3 745.6l8.3 14.4h-16.7zM400.6 745.6l8.3 14.4h-16.7zM401.9 745.6l8.3 14.4h-16.7zM403.3 745.6l8.3 14.4h-16.7zM404.6 745.6l8.3 14.4h-16.7zM406 745.6l8.3 14.4h-16.7zM407.3 745.6l8.3 14.4h-16.7zM408.6 745.5l8.3 14.4h-16.7zM410 745.5l8.3 14.4h-16.7zM411.3 745.5l8.3 14.4h-16.7zM412.6 745.5l8.3 14.4h-16.7zM414 745.5l8.3 14.4h-16.7zM415.3 745.5l8.3 14.4h-16.7zM416.6 745.4l8.3 14.4h-16.7zM418 745.4l8.3 14.4h-16.7zM419.3 745.4l8.3 14.4h-16.7zM420.6 745.3l8.3 14.4h-16.7zM422 745.3l8.3 14.4h-16.7zM423.3 745.3l8.3 14.4h-16.7zM424.6 745.3l8.3 14.4h-16.7zM426 745.2l8.3 14.4h-16.7zM427.3 745.2l8.3 14.4h-16.7zM428.6 745.2l8.3 14.4h-16.7zM430 745.1l8.3 14.4h-16.7zM431.3 745.1l8.3 14.4h-16.7zM432.6 745.1l8.3 14.4h-16.7zM434 745l8.3 14.4h-16.7zM435.3 745l8.3 14.4h-16.7zM436.7 745l8.3 14.4h-16.7zM438 744.9l8.3 14.4h-16.7zM439.3 744.9l8.3 14.4h-16.7zM440.7 744.9l8.3 14.4h-16.7zM442 744.8l8.3 14.4h-16.7zM443.3 744.8l8.3 14.4h-16.7zM444.7 744.8l8.3 14.4h-16.7zM446 744.7l8.3 14.4h-16.7zM447.3 744.7l8.3 14.4h-16.7zM448.7 744.7l8.3 14.4h-16.7zM450 744.6l8.3 14.4h-16.7zM451.3 744.6l8.3 14.4h-16.7zM452.7 744.6l8.3 14.4h-16.7zM454 744.6l8.3 14.4h-16.7zM455.3 744.5l8.3 14.4h-16.7zM456.7 744.5l8.3 14.4h-16.7zM458 744.5l8.3 14.4h-16.7zM459.4 744.5l8.3 14.4h-16.7zM460.7 744.5l8.3 14.4h-16.7zM462 744.4l8.3 14.4h-16.7zM463.4 744.4l8.3 14.4h-16.7zM464.7 744.4l8.3 14.4h-16.7zM466 744.4l8.3 14.4h-16.7zM467.4 744.4l8.3 14.4h-16.7zM468.7 744.4l8.3 14.4h-16.7zM470 744.4l8.3 14.4h-16.7zM471.4 744.4l8.3 14.4h-16.7zM472.7 744.4l8.3 14.4h-16.7zM474 744.4l8.3 14.4h-16.7zM475.4 744.4l8.3 14.4h-16.7zM476.7 744.4l8.3 14.4h-16.7zM478 744.4l8.3 14.4h-16.7zM479.4 744.4l8.3 14.4h-16.7zM480.7 744.4l8.3 14.4h-16.7zM482 744.4l8.3 14.4h-16.7zM483.4 744.4l8.3 14.4h-16.7zM484.7 744.4l8.3 14.4h-16.7zM486.1 744.4l8.3 14.4h-16.7zM487.4 744.4l8.3 14.4h-16.7zM488.7 744.4l8.3 14.4h-16.7zM490.1 744.4l8.3 14.4h-16.7zM491.4 744.4l8.3 14.4h-16.7zM492.7 744.4l8.3 14.4h-16.7zM494.1 744.4l8.3 14.4h-16.7zM495.4 744.4l8.3 14.4h-16.7zM496.7 744.4l8.3 14.4h-16.7zM498.1 744.4l8.3 14.4h-16.7zM499.4 744.4l8.3 14.4h-16.7zM500.7 744.4l8.3 14.4h-16.7zM502.1 744.4l8.3 14.4h-16.7zM503.4 744.4l8.3 14.4h-16.7zM504.7 744.4l8.3 14.4h-16.7zM506.1 744.4l8.3 14.4h-16.7zM507.4 744.4l8.3 14.4h-16.7zM508.7 744.4l8.3 14.4h-16.7zM510.1 744.4l8.3 14.4h-16.7zM511.4 744.4l8.3 14.4h-16.7zM512.8 744.4l8.3 14.4h-16.7zM514.1 744.4l8.3 14.4h-16.7zM515.4 744.4l8.3 14.4h-16.7zM516.8 744.4l8.3 14.4h-16.7zM518.1 744.4l8.3 14.4h-16.7zM519.4 744.4l8.3 14.4h-16.7zM520.8 744.4l8.3 14.4h-16.7zM522.1 744.4l8.3 14.4h-16.7zM523.4 744.4l8.3 14.4h-16.7zM524.8 744.4l8.3 14.4h-16.7zM526.1 744.4l8.3 14.4h-16.7zM527.4 744.4l8.3 14.4h-16.7zM528.8 744.4l8.3 14.4h-16.7zM530.1 744.4l8.3 14.4h-16.7zM531.4 744.4l8.3 14.4h-16.7zM532.8 744.4l8.3 14.4h-16.7zM534.1 744.4l8.3 14.4h-16.7zM535.4 744.4l8.3 14.4h-16.7zM536.8 744.4l8.3 14.4h-16.7zM538.1 744.4l8.3 14.4h-16.7zM539.5 744.4l8.3 14.4h-16.7zM540.8 744.4l8.3 14.4h-16.7zM542.1 744.4l8.3 14.4h-16.7zM543.5 744.4l8.3 14.4h-16.7zM544.8 744.4l8.3 14.4h-16.7zM546.1 744.4l8.3 14.4h-16.7zM547.5 744.4l8.3 14.4h-16.7zM548.8 744.4l8.3 14.4h-16.7zM550.1 744.4l8.3 14.4h-16.7zM551.5 744.4l8.3 14.4h-16.7zM552.8 744.4l8.3 14.4h-16.7zM554.1 744.4l8.3 14.4h-16.7zM555.5 744.4l8.3 14.4h-16.7zM556.8 744.4l8.3 14.4h-16.7zM558.1 744.4l8.3 14.4h-16.7zM559.5 744.4l8.3 14.4h-16.7zM560.8 744.3l8.3 14.4h-16.7zM562.1 743.2l8.3 14.4h-16.7zM563.5 741.3l8.3 14.4h-16.7zM564.8 739.5l8.3 14.4h-16.7zM566.1 737.4l8.3 14.4h-16.7zM567.5 735.9l8.3 14.4h-16.7zM568.8 735.7l8.3 14.4h-16.7zM570.2 735.7l8.3 14.4h-16.7zM571.5 735.7l8.3 14.4h-16.7zM572.8 735.7l8.3 14.4h-16.7zM574.2 735.7l8.3 14.4h-16.7zM575.5 735.6l8.3 14.4h-16.7zM576.8 734.2l8.3 14.4h-16.7zM578.2 731.9l8.3 14.4h-16.7zM579.5 729.1l8.3 14.4h-16.7zM580.8 725.2l8.3 14.4h-16.7zM582.2 720.8l8.3 14.4h-16.7zM583.5 715.7l8.3 14.4h-16.7zM584.8 709.8l8.3 14.4h-16.7zM586.2 702.9l8.3 14.4h-16.7zM587.5 695.3l8.3 14.4h-16.7zM588.8 687.5l8.3 14.4h-16.7zM590.2 679.3l8.3 14.4h-16.7zM591.5 671.3l8.3 14.4h-16.7zM592.9 663.2l8.3 14.4h-16.7zM594.2 655.4l8.3 14.4h-16.7zM595.5 647.9l8.3 14.4h-16.7zM596.9 640.8l8.3 14.4h-16.7zM598.2 634.7l8.3 14.4h-16.7zM599.5 630.1l8.3 14.4h-16.7zM600.9 626.2l8.3 14.4h-16.7zM602.2 622.5l8.3 14.4h-16.7zM603.5 619l8.3 14.4h-16.7zM604.9 615.7l8.3 14.4h-16.7zM606.2 612.8l8.3 14.4h-16.7zM607.5 610l8.3 14.4h-16.7zM608.9 607.2l8.3 14.4h-16.7zM610.2 604.2l8.3 14.4h-16.7zM611.5 601.1l8.3 14.4h-16.7zM612.9 598.2l8.3 14.4h-16.7zM614.2 595.6l8.3 14.4h-16.7zM615.5 593.2l8.3 14.4h-16.7zM616.9 590.9l8.3 14.4h-16.7zM618.2 588.8l8.3 14.4h-16.7zM619.5 586.6l8.3 14.4h-16.7zM620.9 584.7l8.3 14.4h-16.7zM622.2 583.2l8.3 14.4h-16.7zM623.6 581.9l8.3 14.4h-16.7zM624.9 580.7l8.3 14.4h-16.7zM626.2 579.9l8.3 14.4h-16.7zM627.6 579.3l8.3 14.4h-16.7zM628.9 578.8l8.3 14.4h-16.7zM630.2 578.7l8.3 14.4h-16.7zM631.6 578.7l8.3 14.4h-16.7zM632.9 578.7l8.3 14.4h-16.7zM634.2 578.7l8.3 14.4h-16.7zM635.6 578.8l8.3 14.4h-16.7zM636.9 579.1l8.3 14.4h-16.7zM638.2 579.5l8.3 14.4h-16.7zM639.6 580.2l8.3 14.4h-16.7zM640.9 581.4l8.3 14.4h-16.7zM642.2 582.6l8.3 14.4h-16.7zM643.6 584l8.3 14.4h-16.7zM644.9 585.6l8.3 14.4h-16.7zM646.2 586.9l8.3 14.4h-16.7zM647.6 587.9l8.3 14.4h-16.7zM648.9 588.8l8.3 14.4h-16.7zM650.3 589.6l8.3 14.4h-16.7zM651.6 590.4l8.3 14.4h-16.7zM652.9 591.1l8.3 14.4h-16.7zM654.3 591.9l8.3 14.4h-16.7zM655.6 592.8l8.3 14.4h-16.7zM656.9 593.6l8.3 14.4h-16.7zM658.3 594.5l8.3 14.4h-16.7zM659.6 595.4l8.3 14.4h-16.7zM660.9 596.2l8.3 14.4h-16.7zM662.3 597.1l8.3 14.4h-16.7zM663.6 598.1l8.3 14.4h-16.7zM664.9 599l8.3 14.4h-16.7zM666.3 600l8.3 14.4h-16.7zM667.6 601.1l8.3 14.4h-16.7zM668.9 602.1l8.3 14.4h-16.7zM670.3 603.2l8.3 14.4h-16.7zM671.6 604.1l8.3 14.4h-16.7zM673 605l8.3 14.4h-16.7zM674.3 605.9l8.3 14.4h-16.7zM675.6 606.8l8.3 14.4h-16.7zM677 607.6l8.3 14.4h-16.7zM678.3 608.5l8.3 14.4h-16.7zM679.6 609.2l8.3 14.4h-16.7zM681 610l8.3 14.4h-16.7zM682.3 610.7l8.3 14.4h-16.7zM683.6 611.4l8.3 14.4h-16.7zM685 612.1l8.3 14.4h-16.7zM686.3 612.7l8.3 14.4h-16.7zM687.6 613.4l8.3 14.4h-16.7zM689 614l8.3 14.4h-16.7zM690.3 614.5l8.3 14.4h-16.7zM691.6 615.1l8.3 14.4h-16.7zM693 615.6l8.3 14.4h-16.7zM694.3 616.1l8.3 14.4h-16.7zM695.6 616.6l8.3 14.4h-16.7zM697 617l8.3 14.4h-16.7zM698.3 617.5l8.3 14.4h-16.7zM699.7 617.9l8.3 14.4h-16.7zM701 618.3l8.3 14.4h-16.7zM702.3 618.8l8.3 14.4h-16.7zM703.7 619.2l8.3 14.4h-16.7zM705 619.6l8.3 14.4h-16.7zM706.3 620l8.3 14.4h-16.7zM707.7 620.3l8.3 14.4h-16.7zM709 620.7l8.3 14.4h-16.7zM710.3 621.1l8.3 14.4h-16.7zM711.7 621.5l8.3 14.4h-16.7zM713 621.8l8.3 14.4h-16.7zM714.3 622.2l8.3 14.4h-16.7zM715.7 622.5l8.3 14.4h-16.7zM717 622.9l8.3 14.4h-16.7zM718.3 623.3l8.3 14.4h-16.7zM719.7 623.6l8.3 14.4h-16.7zM721 623.9l8.3 14.4h-16.7zM722.3 624.3l8.3 14.4h-16.7zM723.7 624.6l8.3 14.4h-16.7zM725 624.9l8.3 14.4h-16.7zM726.3 625.2l8.3 14.4h-16.7zM727.7 625.6l8.3 14.4h-16.7zM729 625.9l8.3 14.4h-16.7zM730.4 626.2l8.3 14.4h-16.7zM731.7 626.5l8.3 14.4h-16.7zM733 626.8l8.3 14.4h-16.7zM734.4 627.1l8.3 14.4h-16.7zM735.7 627.5l8.3 14.4h-16.7zM737 627.8l8.3 14.4h-16.7zM738.4 628.1l8.3 14.4h-16.7zM739.7 628.4l8.3 14.4h-16.7zM741 628.8l8.3 14.4h-16.7zM742.4 629.1l8.3 14.4h-16.7zM743.7 629.4l8.3 14.4h-16.7zM745 629.7l8.3 14.4h-16.7zM746.4 630l8.3 14.4h-16.7zM747.7 630.4l8.3 14.4h-16.7zM749 630.7l8.3 14.4h-16.7zM750.4 631l8.3 14.4h-16.7zM751.7 631.3l8.3 14.4h-16.7zM753 631.6l8.3 14.4h-16.7zM754.4 631.9l8.3 14.4h-16.7zM755.7 632.2l8.3 14.4h-16.7zM757.1 632.5l8.3 14.4h-16.7zM758.4 632.8l8.3 14.4h-16.7zM759.7 633.1l8.3 14.4h-16.7zM761.1 633.4l8.3 14.4h-16.7zM762.4 633.7l8.3 14.4h-16.7zM763.7 634l8.3 14.4h-16.7zM765.1 634.3l8.3 14.4h-16.7zM766.4 634.6l8.3 14.4h-16.7zM767.7 634.8l8.3 14.4h-16.7zM769.1 635.1l8.3 14.4h-16.7zM770.4 635.3l8.3 14.4h-16.7zM771.7 635.5l8.3 14.4h-16.7zM773.1 635.7l8.3 14.4h-16.7zM774.4 636l8.3 14.4h-16.7zM775.7 636.2l8.3 14.4h-16.7zM777.1 636.4l8.3 14.4h-16.7zM778.4 636.6l8.3 14.4h-16.7zM779.8 636.8l8.3 14.4h-16.7zM781.1 637l8.3 14.4h-16.7zM782.4 637.2l8.3 14.4h-16.7zM783.8 637.3l8.3 14.4h-16.7zM785.1 637.4l8.3 14.4h-16.7zM786.4 637.5l8.3 14.4h-16.7zM787.8 637.6l8.3 14.4h-16.7zM789.1 637.7l8.3 14.4h-16.7zM790.4 637.7l8.3 14.4h-16.7zM791.8 637.8l8.3 14.4h-16.7zM793.1 637.8l8.3 14.4h-16.7zM794.4 637.9l8.3 14.4h-16.7zM795.8 637.9l8.3 14.4h-16.7zM797.1 637.9l8.3 14.4h-16.7zM798.4 637.8l8.3 14.4h-16.7zM799.8 637.6l8.3 14.4h-16.7zM801.1 637.3l8.3 14.4h-16.7zM802.4 636.9l8.3 14.4h-16.7zM803.8 635.8l8.3 14.4h-16.7zM805.1 633.8l8.3 14.4h-16.7zM806.5 631.7l8.3 14.4h-16.7zM807.8 629.9l8.3 14.4h-16.7zM809.1 628.2l8.3 14.4h-16.7zM810.5 626.5l8.3 14.4h-16.7zM811.8 624.8l8.3 14.4h-16.7zM813.1 623.3l8.3 14.4h-16.7zM814.5 621.9l8.3 14.4h-16.7zM815.8 620.5l8.3 14.4h-16.7zM817.1 619.1l8.3 14.4h-16.7zM818.5 617.9l8.3 14.4h-16.7zM819.8 616.8l8.3 14.4h-16.7zM821.1 615.8l8.3 14.4h-16.7zM822.5 614.9l8.3 14.4h-16.7zM823.8 614.1l8.3 14.4h-16.7zM825.1 613.4l8.3 14.4h-16.7zM826.5 612.8l8.3 14.4h-16.7zM827.8 612.3l8.3 14.4h-16.7zM829.1 611.8l8.3 14.4h-16.7zM830.5 611.4l8.3 14.4h-16.7zM831.8 611.1l8.3 14.4h-16.7zM833.2 610.8l8.3 14.4h-16.7zM834.5 610.5l8.3 14.4h-16.7zM835.8 610.2l8.3 14.4h-16.7zM837.2 609.9l8.3 14.4h-16.7zM838.5 609.6l8.3 14.4h-16.7zM839.8 609.4l8.3 14.4h-16.7zM841.2 609.2l8.3 14.4h-16.7zM842.5 609l8.3 14.4h-16.7zM843.8 608.9l8.3 14.4h-16.7zM845.2 608.8l8.3 14.4h-16.7zM846.5 608.7l8.3 14.4h-16.7zM847.8 608.7l8.3 14.4h-16.7zM849.2 608.7l8.3 14.4h-16.7zM850.5 608.9l8.3 14.4h-16.7zM851.8 609.2l8.3 14.4h-16.7zM853.2 609.6l8.3 14.4h-16.7zM854.5 610.1l8.3 14.4h-16.7zM855.8 610.6l8.3 14.4h-16.7zM857.2 611.1l8.3 14.4h-16.7zM858.5 611.7l8.3 14.4h-16.7zM859.8 612.4l8.3 14.4h-16.7zM861.2 613.2l8.3 14.4h-16.7zM862.5 613.9l8.3 14.4h-16.7zM863.9 614.6l8.3 14.4h-16.7zM865.2 615.4l8.3 14.4h-16.7zM866.5 616.1l8.3 14.4h-16.7zM867.9 616.9l8.3 14.4h-16.7zM869.2 617.8l8.3 14.4h-16.7zM870.5 618.6l8.3 14.4h-16.7zM871.9 619.5l8.3 14.4h-16.7zM873.2 620.4l8.3 14.4h-16.7zM874.5 621.4l8.3 14.4h-16.7zM875.9 622.3l8.3 14.4h-16.7zM877.2 623.3l8.3 14.4h-16.7zM878.5 624.3l8.3 14.4h-16.7zM879.9 625.3l8.3 14.4h-16.7zM881.2 626.3l8.3 14.4h-16.7zM882.5 627.2l8.3 14.4h-16.7zM883.9 628.2l8.3 14.4h-16.7zM885.2 629.1l8.3 14.4h-16.7zM886.5 630l8.3 14.4h-16.7zM887.9 630.8l8.3 14.4h-16.7zM889.2 631.5l8.3 14.4h-16.7zM890.6 632.1l8.3 14.4h-16.7zM891.9 632.5l8.3 14.4h-16.7zM893.2 633l8.3 14.4h-16.7zM894.6 633.4l8.3 14.4h-16.7zM895.9 633.8l8.3 14.4h-16.7zM897.2 634.2l8.3 14.4h-16.7zM898.6 634.7l8.3 14.4h-16.7zM899.9 635.2l8.3 14.4h-16.7z"/>
<path d="M84.1 813.1H1021.5M84.1 61.1H1021.5M85.6 59.6V820.4M1020 59.6V820.4M152.3 813.1V827.1M219.1 813.1V820.4M285.8 813.1V827.1M352.6 813.1V820.4M419.3 813.1V827.1M486.1 813.1V820.4M552.8 813.1V827.1M619.5 813.1V820.4M686.3 813.1V827.1M753 813.1V820.4M819.8 813.1V827.1M886.5 813.1V820.4M953.3 813.1V827.1M1020 813.1V820.4M85.6 755.3H71.1M85.6 639.6H71.1M85.6 523.9H71.1M85.6 408.2H71.1M85.6 292.5H71.1M85.6 176.8H71.1M85.6 61.1H71.1M85.6 813.1H78.1M85.6 697.4H78.1M85.6 581.8H78.1M85.6 466H78.1M85.6 350.3H78.1M85.6 234.6H78.1M85.6 118.9H78.1" stroke="#000" stroke-width="3" fill="none"/>
<text x="60.6" y="767.1" font-size="37" text-anchor="end">0</text>
<text x="60.6" y="651.4" font-size="37" text-anchor="end">1</text>
<text x="60.6" y="535.7" font-size="37" text-anchor="end">2</text>
<text x="60.6" y="420" font-size="37" text-anchor="end">3</text>
<text x="60.6" y="304.3" font-size="37" text-anchor="end">4</text>
<text x="60.6" y="188.6" font-size="37" text-anchor="end">5</text>
<text x="60.6" y="72.9" font-size="37" text-anchor="end">6</text>
<text x="152.3" y="865.9" font-size="37" text-anchor="middle">0.0</text>
<text x="285.8" y="865.9" font-size="37" text-anchor="middle">0.5</text>
<text x="419.3" y="865.9" font-size="37" text-anchor="middle">1.0</text>
<text x="552.8" y="865.9" font-size="37" text-anchor="middle">1.5</text>
<text x="686.3" y="865.9" font-size="37" text-anchor="middle">2.0</text>
<text x="819.8" y="865.9" font-size="37" text-anchor="middle">2.5</text>
<text x="953.3" y="865.9" font-size="37" text-anchor="middle">3.0</text>
<text transform="translate(26,542.4) rotate(-90)" font-size="39">Pressure(Pa)</text>
<text x="452" y="909.2" font-size="39">Time</text>
<text class="cjk" x="528" y="909.5" font-size="36">（</text>
<text x="569.6" y="909.2" font-size="39">μs</text>
<text class="cjk" x="605.6" y="909.5" font-size="36">）</text>
<text x="30.5" y="34.6" font-size="41.5" style="font-weight:bold">×</text>
<text x="53" y="33.8" font-size="39.5">10</text>
<text x="92.3" y="18" font-size="26">10</text>
<rect x="592.5" y="71" width="359.5" height="141.5" fill="#fff" stroke="#333" stroke-width="1.6"/>
<rect x="631.7" y="90.8" width="12.4" height="12.4" fill="#505050"/>
<circle cx="638" cy="142.8" r="7" fill="#f03e3f"/>
<path d="M637.9 178.8l8.35 14.4h-16.7z" fill="#1a71de"/>
<text x="678" y="109.4" font-size="36">Rectangle shape</text>
<text x="678" y="155" font-size="36">Cylindrical shape</text>
<text x="678" y="200.2" font-size="36">Conical shape</text>
</svg>
</body></html>
